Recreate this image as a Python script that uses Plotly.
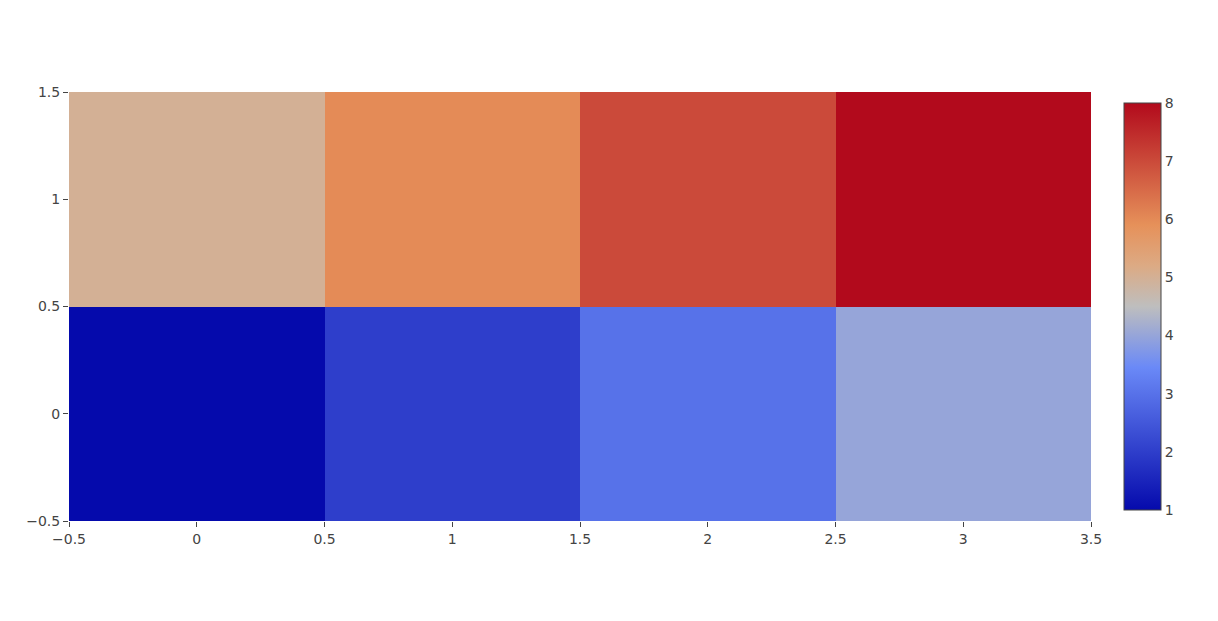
import plotly.graph_objects as go

x_vals = [0, 1, 2, 3]
y_vals = [0, 1]
z_vals = [[1, 2, 3, 4],
          [5, 6, 7, 8]]

colorscale = [[0, 'rgb(5,10,172)'], [0.35, 'rgb(106,137,247)'], [0.5, 'rgb(190,190,190)'],
              [0.6, 'rgb(220,170,132)'], [0.7, 'rgb(230,145,90)'], [1, 'rgb(178,10,28)']]

fig = go.Figure(go.Heatmap(
    x=x_vals, y=y_vals, z=z_vals, colorscale=colorscale,
    colorbar=dict(outlinewidth=1, outlinecolor='#444', ticks='', thickness=37, xpad=13,
                  ypad=11, tickfont=dict(color='#444')),
))

axis_style = dict(ticks='outside', ticklen=5, tickcolor='#444', showgrid=False,
                  zeroline=False, showline=False, tickfont=dict(color='#444'))
fig.update_layout(
    template='none',
    width=1218, height=621,
    font=dict(family='DejaVu Sans', size=14, color='#444'),
    margin=dict(l=61, r=135, t=84, b=108),
    paper_bgcolor='white', plot_bgcolor='white',
    xaxis=dict(range=[-0.5, 3.5], tickmode='array',
               tickvals=[-0.5, 0, 0.5, 1, 1.5, 2, 2.5, 3, 3.5], **axis_style),
    yaxis=dict(range=[-0.5, 1.5], tickmode='array',
               tickvals=[-0.5, 0, 0.5, 1, 1.5], **axis_style),
)
fig.write_html("out.html")
